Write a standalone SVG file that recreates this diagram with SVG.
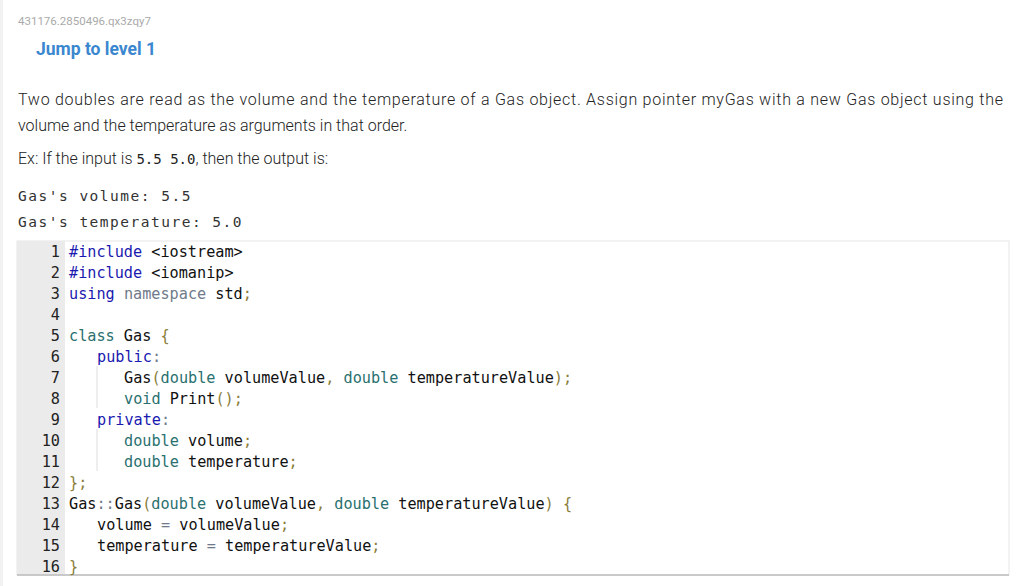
<svg xmlns="http://www.w3.org/2000/svg" width="1024" height="586" viewBox="0 0 1024 586">
<style>
.p{font-family:Roboto,"Liberation Sans",sans-serif;font-size:16px;font-weight:300;fill:#222}
.o{font-family:"DejaVu Sans Mono",monospace;font-size:14.5px;fill:#333;letter-spacing:1.5px}
.c{font-family:"DejaVu Sans Mono",monospace;font-size:15.2px;fill:#111;white-space:pre}
.n{font-family:"DejaVu Sans Mono",monospace;font-size:15.2px;fill:#222;text-anchor:end}
.k{fill:#1a1ab0}.g{fill:#707a8a}.t{fill:#2a7070}.b{fill:#8a7d3a}
</style>
<rect width="1024" height="586" fill="#fff"/>
<rect x="0" y="0" width="3" height="586" fill="#f2f2f2"/>
<text x="18" y="25" font-family="Roboto,'Liberation Sans',sans-serif" font-size="11.5" fill="#aaa">431176.2850496.qx3zqy7</text>
<text x="36" y="55" font-family="Roboto,'Liberation Sans',sans-serif" font-size="17.5" font-weight="bold" fill="#3a87cf">Jump to level 1</text>
<text class="p" x="18" y="105" textLength="985">Two doubles are read as the volume and the temperature of a Gas object. Assign pointer myGas with a new Gas object using the</text>
<text class="p" x="18" y="131">volume and the temperature as arguments in that order.</text>
<text class="p" x="18" y="164">Ex: If the input is <tspan font-family="DejaVu Sans Mono,monospace" font-size="14" font-weight="normal">5.5 5.0</tspan>, then the output is:</text>
<text class="o" x="18" y="201">Gas's volume: 5.5</text>
<text class="o" x="18" y="227">Gas's temperature: 5.0</text>
<rect x="17" y="241" width="992" height="334" fill="#fff" stroke="#e6e6e6"/>
<rect x="17" y="241" width="48" height="334" fill="#ebebeb"/>
<line x1="17" y1="575" x2="1009" y2="575" stroke="#bbb" stroke-width="1.5"/>
<g stroke="#ddd" stroke-width="1"><line x1="97" y1="366" x2="97" y2="408"/><line x1="97" y1="429" x2="97" y2="471"/></g>
<g class="n">
<text x="60" y="257">1</text><text x="60" y="278">2</text><text x="60" y="299">3</text><text x="60" y="320">4</text><text x="60" y="341">5</text><text x="60" y="362">6</text><text x="60" y="383">7</text><text x="60" y="404">8</text><text x="60" y="425">9</text><text x="60" y="446">10</text><text x="60" y="467">11</text><text x="60" y="488">12</text><text x="60" y="509">13</text><text x="60" y="530">14</text><text x="60" y="551">15</text><text x="60" y="572">16</text>
</g>
<g class="c">
<text x="69" y="257"><tspan class="k">#include</tspan> &lt;iostream&gt;</text>
<text x="69" y="278"><tspan class="k">#include</tspan> &lt;iomanip&gt;</text>
<text x="69" y="299"><tspan class="k">using</tspan> <tspan class="g">namespace</tspan> std<tspan class="b">;</tspan></text>
<text x="69" y="341"><tspan class="t">class</tspan> Gas <tspan class="b">{</tspan></text>
<text x="97" y="362"><tspan class="k">public</tspan><tspan class="g">:</tspan></text>
<text x="124" y="383">Gas<tspan class="b">(</tspan><tspan class="t">double</tspan> volumeValue<tspan class="b">,</tspan> <tspan class="t">double</tspan> temperatureValue<tspan class="b">);</tspan></text>
<text x="124" y="404"><tspan class="t">void</tspan> Print<tspan class="b">();</tspan></text>
<text x="97" y="425"><tspan class="k">private</tspan><tspan class="g">:</tspan></text>
<text x="124" y="446"><tspan class="t">double</tspan> volume<tspan class="b">;</tspan></text>
<text x="124" y="467"><tspan class="t">double</tspan> temperature<tspan class="b">;</tspan></text>
<text x="69" y="488"><tspan class="b">};</tspan></text>
<text x="69" y="509">Gas<tspan class="g">::</tspan>Gas<tspan class="b">(</tspan><tspan class="t">double</tspan> volumeValue<tspan class="b">,</tspan> <tspan class="t">double</tspan> temperatureValue<tspan class="b">)</tspan> <tspan class="b">{</tspan></text>
<text x="97" y="530">volume <tspan class="g">=</tspan> volumeValue<tspan class="b">;</tspan></text>
<text x="97" y="551">temperature <tspan class="g">=</tspan> temperatureValue<tspan class="b">;</tspan></text>
<text x="69" y="572"><tspan class="b">}</tspan></text>
</g>
</svg>
